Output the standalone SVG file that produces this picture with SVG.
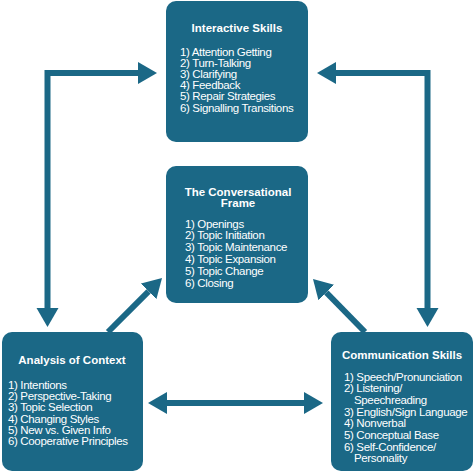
<svg xmlns="http://www.w3.org/2000/svg" width="474" height="474" viewBox="0 0 474 474">
<style>
.box{fill:#1b6886}
.t{font-family:"Liberation Sans",Arial,sans-serif;fill:#ffffff}
.h{font-size:11.5px;font-weight:bold;text-anchor:middle}
.l{font-size:11.5px;letter-spacing:-0.35px}
.c{fill:none;stroke:#1b6886;stroke-width:6;stroke-linejoin:miter}
</style>
<defs>
<marker id="ah" markerUnits="userSpaceOnUse" markerWidth="20" markerHeight="24" refX="0" refY="11" orient="auto-start-reverse" viewBox="0 0 20 22">
<path d="M0,0 L19,11 L0,22 z" fill="#1b6886"/>
</marker>
</defs>
<rect width="474" height="474" fill="#ffffff"/>
<g id="connectors">
<path class="c" d="M47.5,308 L47.5,73 L138,73" marker-start="url(#ah)" marker-end="url(#ah)"/>
<path class="c" d="M427.5,308 L427.5,73 L336,73" marker-start="url(#ah)" marker-end="url(#ah)"/>
<path class="c" d="M167,403 L304,403" marker-start="url(#ah)" marker-end="url(#ah)"/>
<path class="c" d="M108,332 L148.6,291.4" marker-end="url(#ah)"/>
<path class="c" d="M365,332 L326.3,292.5" marker-end="url(#ah)"/>
</g>
<g id="interactive-skills">
<rect class="box" x="166" y="1" width="142" height="141" rx="10"/>
<text class="t h" x="237" y="32">Interactive Skills</text>
<text class="t l" x="180" y="55.5">1) Attention Getting</text>
<text class="t l" x="180" y="66.7">2) Turn-Talking</text>
<text class="t l" x="180" y="77.9">3) Clarifying</text>
<text class="t l" x="180" y="89.1">4) Feedback</text>
<text class="t l" x="180" y="100.3">5) Repair Strategies</text>
<text class="t l" x="180" y="111.5">6) Signalling Transitions</text>
</g>
<g id="conversational-frame">
<rect class="box" x="166" y="166" width="142" height="137" rx="10"/>
<text class="t h" x="238" y="196">The Conversational</text>
<text class="t h" x="238" y="207">Frame</text>
<text class="t l" x="185" y="227.5">1) Openings</text>
<text class="t l" x="185" y="239.3">2) Topic Initiation</text>
<text class="t l" x="185" y="251.1">3) Topic Maintenance</text>
<text class="t l" x="185" y="262.9">4) Topic Expansion</text>
<text class="t l" x="185" y="274.7">5) Topic Change</text>
<text class="t l" x="185" y="286.5">6) Closing</text>
</g>
<g id="analysis-of-context">
<rect class="box" x="2" y="332" width="141" height="139" rx="10"/>
<text class="t h" x="72" y="364">Analysis of Context</text>
<text class="t l" x="8" y="388.5">1) Intentions</text>
<text class="t l" x="8" y="399.9">2) Perspective-Taking</text>
<text class="t l" x="8" y="411.2">3) Topic Selection</text>
<text class="t l" x="8" y="422.6">4) Changing Styles</text>
<text class="t l" x="8" y="433.9">5) New vs. Given Info</text>
<text class="t l" x="8" y="445.3">6) Cooperative Principles</text>
</g>
<g id="communication-skills">
<rect class="box" x="331" y="332" width="142" height="139" rx="10"/>
<text class="t h" x="402" y="359">Communication Skills</text>
<text class="t l" x="344" y="380.7">1) Speech/Pronunciation</text>
<text class="t l" x="344" y="392.3">2) Listening/</text>
<text class="t l" x="354" y="404">Speechreading</text>
<text class="t l" x="344" y="415.7">3) English/Sign Language</text>
<text class="t l" x="344" y="427.3">4) Nonverbal</text>
<text class="t l" x="344" y="439">5) Conceptual Base</text>
<text class="t l" x="344" y="450.7">6) Self-Confidence/</text>
<text class="t l" x="354" y="462.3">Personality</text>
</g>
</svg>
